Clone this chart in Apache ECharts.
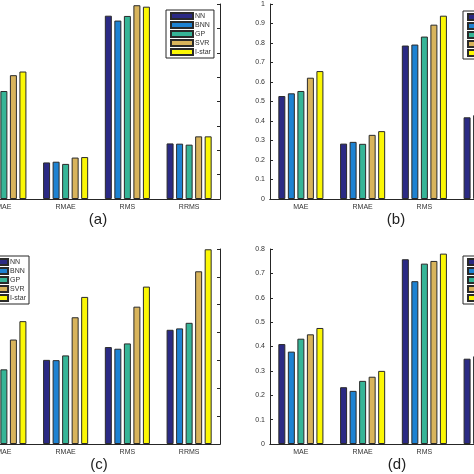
<!DOCTYPE html>
<html>
<head>
<meta charset="utf-8">
<script src="https://cdn.jsdelivr.net/npm/echarts@6/dist/echarts.min.js"></script>
<style>
  html, body { margin: 0; padding: 0; background: #fff; }
  #chart { width: 474px; height: 474px; }
</style>
</head>
<body>
<div id="chart"></div>
<script>
var categories = ['MAE', 'RMAE', 'RMS', 'RRMS'];
var models = ['NN', 'BNN', 'GP', 'SVR', 'I-star'];
var colors = ['#2b2a84', '#1d82d2', '#36b597', '#d8b45c', '#fbf705'];

// one row per model, one value per category
var panelA = [
  [0.40, 0.150, 0.752, 0.228],
  [0.42, 0.153, 0.732, 0.227],
  [0.443, 0.144, 0.751, 0.223],
  [0.508, 0.170, 0.795, 0.257],
  [0.523, 0.172, 0.789, 0.257]
];
var panelB = [
  [0.528, 0.284, 0.787, 0.419],
  [0.542, 0.293, 0.792, 0.43],
  [0.554, 0.283, 0.833, 0.42],
  [0.622, 0.329, 0.894, 0.47],
  [0.656, 0.348, 0.940, 0.50]
];
var panelC = [
  [0.26, 0.302, 0.348, 0.410],
  [0.25, 0.301, 0.342, 0.415],
  [0.268, 0.318, 0.361, 0.435],
  [0.375, 0.455, 0.493, 0.620],
  [0.441, 0.528, 0.565, 0.699]
];
var panelD = [
  [0.410, 0.233, 0.758, 0.350],
  [0.379, 0.218, 0.668, 0.36],
  [0.432, 0.259, 0.740, 0.38],
  [0.450, 0.276, 0.751, 0.40],
  [0.476, 0.300, 0.781, 0.42]
];

var panels = [
  { data: panelA, left: -27, top: 4, max: 0.8, legend: { left: 166, top: 10 }, label: '(a)', lx: 98, ly: 220 },
  { data: panelB, left: 270, top: 4, max: 1.0, legend: { left: 463, top: 11 }, label: '(b)', lx: 396, ly: 220 },
  { data: panelC, left: -27, top: 249, max: 0.7, legend: { right: 445, top: 256 }, label: '(c)', lx: 99, ly: 465 },
  { data: panelD, left: 270, top: 249, max: 0.8, legend: { left: 463, top: 256 }, label: '(d)', lx: 397, ly: 465 }
];

var lineColor = '#262626';
var font = 'Liberation Sans, Arial, sans-serif';

var grid = [], xAxis = [], yAxis = [], series = [], legend = [], graphic = [];

panels.forEach(function (p, i) {
  grid.push({ left: p.left, top: p.top, width: 247, height: 195, outerBoundsMode: 'none' });

  xAxis.push({
    type: 'category', gridIndex: i, data: categories, position: 'bottom',
    axisLine: { lineStyle: { color: lineColor, width: 1 } },
    axisTick: { inside: true, length: 3, alignWithLabel: true, lineStyle: { color: lineColor } },
    axisLabel: { fontSize: 7, color: '#333', margin: 5, fontFamily: font }
  });
  xAxis.push({
    type: 'category', gridIndex: i, data: categories, position: 'top',
    axisLine: { lineStyle: { color: lineColor, width: 1 } },
    axisTick: { inside: true, length: 3, alignWithLabel: true, lineStyle: { color: lineColor } },
    axisLabel: { show: false }
  });

  yAxis.push({
    type: 'value', gridIndex: i, min: 0, max: p.max, interval: 0.1, position: 'left',
    splitLine: { show: false },
    axisLine: { show: true, lineStyle: { color: lineColor, width: 1 } },
    axisTick: { show: true, inside: true, length: 3, lineStyle: { color: lineColor } },
    axisLabel: { fontSize: 7, color: '#333', margin: 5, fontFamily: font }
  });
  yAxis.push({
    type: 'value', gridIndex: i, min: 0, max: p.max, interval: 0.1, position: 'right',
    splitLine: { show: false },
    axisLine: { show: true, lineStyle: { color: lineColor, width: 1 } },
    axisTick: { show: true, inside: true, length: 3, lineStyle: { color: lineColor } },
    axisLabel: { show: false }
  });

  models.forEach(function (m, k) {
    series.push({
      name: m, type: 'bar',
      xAxisIndex: i * 2, yAxisIndex: i * 2,
      barWidth: 7, barGap: '36%',
      itemStyle: { color: colors[k], borderColor: '#2a2a2a', borderWidth: 1 },
      data: p.data[k]
    });
  });

  legend.push(Object.assign({
    data: models, orient: 'vertical',
    backgroundColor: '#fff', borderColor: lineColor, borderWidth: 1,
    padding: [2, 3, 2, 4], itemWidth: 22, itemHeight: 6, itemGap: 1,
    icon: 'rect', selectedMode: false,
    textStyle: { fontSize: 7, color: '#333', fontFamily: font, padding: [0, 0, 0, -3] }
  }, p.legend));

  graphic.push({
    type: 'text', x: p.lx, y: p.ly,
    style: { text: p.label, fontSize: 15, fill: '#222', font: '15px ' + font, textAlign: 'center', textVerticalAlign: 'middle' }
  });
});

var chart = echarts.init(document.getElementById('chart'));
chart.setOption({
  backgroundColor: '#fff',
  animation: false,
  grid: grid,
  xAxis: xAxis,
  yAxis: yAxis,
  legend: legend,
  series: series,
  graphic: graphic
});
</script>
</body>
</html>
